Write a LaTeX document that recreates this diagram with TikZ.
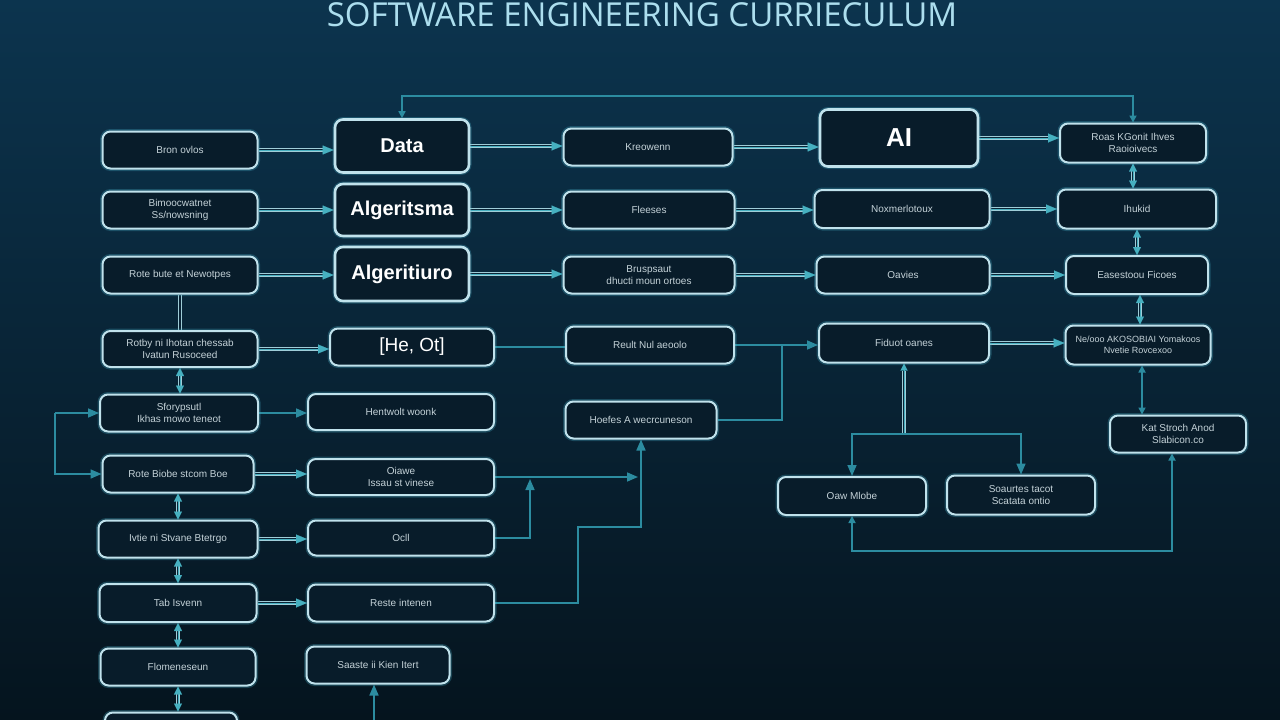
\documentclass[tikz,border=0pt]{standalone}
\usepackage{fontspec}
\setsansfont{Liberation Sans}
\newfontfamily\titlefont{Open Sans}
\usetikzlibrary{arrows.meta}
\pgfdeclarelayer{bglayer}
\pgfdeclarelayer{edgelayer}
\pgfdeclarelayer{nodelayer}
\pgfsetlayers{bglayer,edgelayer,nodelayer,main}
\definecolor{bgtop}{RGB}{12,52,78}
\definecolor{bgmid}{RGB}{9,36,54}
\definecolor{bgbot}{RGB}{5,20,30}
\definecolor{cardfill}{RGB}{8,28,42}
\definecolor{cardedge}{RGB}{192,226,236}
\definecolor{glow}{RGB}{70,170,195}
\definecolor{labelc}{RGB}{196,210,216}
\definecolor{wirec}{RGB}{44,140,160}
\definecolor{railc}{RGB}{160,205,216}
\definecolor{tipc}{RGB}{70,176,192}
\definecolor{titlec}{RGB}{172,222,238}
\tikzstyle{none}=[inner sep=0pt]
\tikzstyle{card}=[draw=cardedge, line width=2pt, rounded corners=8pt, fill=cardfill, text=labelc, font=\sffamily\fontsize{10}{11.5}\selectfont, align=center, inner sep=0pt, preaction={draw=glow, line width=5pt, opacity=0.3}]
\tikzstyle{bigcard}=[card, line width=2.6pt, text=white, font=\sffamily\bfseries\fontsize{20}{24}\selectfont]
\tikzstyle{rail}=[draw=railc, line width=1pt, double=bgmid, double distance=2pt]
\tikzstyle{tip}=[draw=tipc, line width=0.1pt, -{Triangle[length=11pt,width=9pt]}]
\tikzstyle{tips}=[draw=tipc, line width=0.1pt, {Triangle[length=8pt,width=8pt]}-{Triangle[length=8pt,width=8pt]}]
\tikzstyle{wire}=[draw=wirec, line width=1.6pt]
\tikzstyle{transition}=[wire, -{Triangle[length=11pt,width=9pt]}]
\tikzstyle{ends}=[wire, {Triangle[length=7pt,width=7pt]}-{Triangle[length=7pt,width=7pt]}]

\begin{document}
\begin{tikzpicture}[x=1pt, y=-1pt]
	\useasboundingbox (0,0) rectangle (1280,720);
	\begin{pgfonlayer}{bglayer}
		\fill [top color=bgtop, middle color=bgmid, bottom color=bgbot] (0,0) rectangle (1280,720);
	\end{pgfonlayer}
	\begin{pgfonlayer}{nodelayer}
		\node [style=card, minimum width=155, minimum height=37] (0) at (180,150) {Bron ovlos};
		\node [style=card, minimum width=155, minimum height=37] (1) at (180,210) {Bimoocwatnet\\Ss/nowsning};
		\node [style=card, minimum width=155, minimum height=37] (2) at (180,275) {Rote bute et Newotpes};
		\node [style=card, minimum width=155, minimum height=36] (3) at (180,349) {Rotby ni Ihotan chessab\\Ivatun Rusoceed};
		\node [style=card, minimum width=158, minimum height=37] (4) at (179,413) {Sforypsutl\\Ikhas mowo teneot};
		\node [style=card, minimum width=151, minimum height=37] (5) at (178,474) {Rote Biobe stcom Boe};
		\node [style=card, minimum width=159, minimum height=37] (6) at (178,539) {Ivtie ni Stvane Btetrgo};
		\node [style=card, minimum width=157, minimum height=38] (7) at (178,603) {Tab Isvenn};
		\node [style=card, minimum width=155, minimum height=37] (8) at (178,667) {Flomeneseun};
		\node [style=card, minimum width=132, minimum height=37] (9) at (171,731) {};
		\node [style=bigcard, minimum width=134, minimum height=53] (10) at (402,146) {Data};
		\node [style=bigcard, minimum width=134, minimum height=52] (11) at (402,210) {Algeritsma};
		\node [style=bigcard, minimum width=134, minimum height=54] (12) at (402,274) {Algeritiuro};
		\node [style=bigcard, line width=2pt, font=\sffamily\fontsize{19}{22}\selectfont, minimum width=164, minimum height=37] (13) at (412,347) {[He, Ot]};
		\node [style=card, minimum width=186, minimum height=36] (14) at (401,412) {Hentwolt woonk};
		\node [style=card, minimum width=186, minimum height=36] (15) at (401,477) {Oiawe\\Issau st vinese};
		\node [style=card, minimum width=186, minimum height=35] (16) at (401,538) {Ocll};
		\node [style=card, minimum width=186, minimum height=37] (17) at (401,603) {Reste intenen};
		\node [style=card, minimum width=143, minimum height=37] (18) at (378,665) {Saaste ii Kien Itert};
		\node [style=card, minimum width=169, minimum height=37] (19) at (648,147) {Kreowenn};
		\node [style=card, minimum width=171, minimum height=37] (20) at (649,210) {Fleeses};
		\node [style=card, minimum width=171, minimum height=37] (21) at (649,275) {Bruspsaut\\dhucti moun ortoes};
		\node [style=card, minimum width=168, minimum height=37] (22) at (650,345) {Reult Nul aeoolo};
		\node [style=card, minimum width=151, minimum height=37] (23) at (641,420) {Hoefes A wecrcuneson};
		\node [style=bigcard, font=\sffamily\bfseries\fontsize{26}{28}\selectfont, minimum width=158, minimum height=57] (24) at (899,138) {AI};
		\node [style=card, minimum width=175, minimum height=38] (25) at (902,209) {Noxmerlotoux};
		\node [style=card, minimum width=173, minimum height=37] (26) at (903,275) {Oavies};
		\node [style=card, minimum width=170, minimum height=39] (27) at (904,343) {Fiduot oanes};
		\node [style=card, minimum width=148, minimum height=38] (28) at (852,496) {Oaw Mlobe};
		\node [style=card, minimum width=148, minimum height=39] (29) at (1021,495) {Soaurtes tacot\\Scatata ontio};
		\node [style=card, minimum width=146, minimum height=39] (30) at (1133,143) {Roas KGonit Ihves\\Raoioivecs};
		\node [style=card, minimum width=158, minimum height=39] (31) at (1137,209) {Ihukid};
		\node [style=card, minimum width=142, minimum height=38] (32) at (1137,275) {Easestoou Ficoes};
		\node [style=card, font=\sffamily\fontsize{9}{10.5}\selectfont, minimum width=145, minimum height=39] (33) at (1138,345) {Ne/ooo AKOSOBIAI Yomakoos\\Nvetie Rovcexoo};
		\node [style=card, minimum width=136, minimum height=37] (34) at (1178,434) {Kat Stroch Anod\\Slabicon.co};
		\node [style=none, anchor=base, text=titlec, font=\titlefont\fontsize{33}{33}\selectfont] (35) at (642,26) {SOFTWARE ENGINEERING CURRIECULUM};
		\coordinate (36) at (402,96);
		\coordinate (37) at (782,345);
		\coordinate (38) at (55,413);
		\coordinate (39) at (530,479);
		\coordinate (40) at (904,434);
		\coordinate (41) at (374,725);
	\end{pgfonlayer}
	\begin{pgfonlayer}{edgelayer}
		% loop over the top
		\draw [style=ends] (10.north) -- (36) -| (30.north);
		% first column into second
		\draw [style=rail, shorten >=10pt] (0.east) -- (0.east -| 10.west);
		\draw [style=tip] (0.east) -- (0.east -| 10.west);
		\draw [style=rail, shorten >=10pt] (1.east) -- (1.east -| 11.west);
		\draw [style=tip] (1.east) -- (1.east -| 11.west);
		\draw [style=rail, shorten >=10pt] (2.east) -- (2.east -| 12.west);
		\draw [style=tip] (2.east) -- (2.east -| 12.west);
		\draw [style=rail, shorten >=10pt] (3.east) -- (3.east -| 13.west);
		\draw [style=tip] (3.east) -- (3.east -| 13.west);
		\draw [style=transition] (4.east) -- (4.east -| 14.west);
		\draw [style=rail, shorten >=10pt] (5.east) -- (5.east -| 15.west);
		\draw [style=tip] (5.east) -- (5.east -| 15.west);
		\draw [style=rail, shorten >=10pt] (6.east) -- (6.east -| 16.west);
		\draw [style=tip] (6.east) -- (6.east -| 16.west);
		\draw [style=rail, shorten >=10pt] (7.east) -- (7.east -| 17.west);
		\draw [style=tip] (7.east) -- (7.east -| 17.west);
		% first column, vertical links
		\draw [style=rail] (2.south) -- (2.south |- 3.north);
		\draw [style=rail, shorten <=7pt, shorten >=7pt] (3.south) -- (3.south |- 4.north);
		\draw [style=tips] (3.south) -- (3.south |- 4.north);
		\draw [style=rail, shorten <=7pt, shorten >=7pt] (5.south) -- (5.south |- 6.north);
		\draw [style=tips] (5.south) -- (5.south |- 6.north);
		\draw [style=rail, shorten <=7pt, shorten >=7pt] (6.south) -- (6.south |- 7.north);
		\draw [style=tips] (6.south) -- (6.south |- 7.north);
		\draw [style=rail, shorten <=7pt, shorten >=7pt] (7.south) -- (7.south |- 8.north);
		\draw [style=tips] (7.south) -- (7.south |- 8.north);
		\draw [style=rail, shorten <=7pt, shorten >=7pt] (8.south) -- (8.south |- 9.north);
		\draw [style=tips] (8.south) -- (8.south |- 9.north);
		\draw [style=transition] (38) -- (4.west);
		\draw [style=transition] (38) |- (5.west);
		% second column into third
		\draw [style=rail, shorten >=10pt] (10.east) -- (10.east -| 19.west);
		\draw [style=tip] (10.east) -- (10.east -| 19.west);
		\draw [style=rail, shorten >=10pt] (11.east) -- (11.east -| 20.west);
		\draw [style=tip] (11.east) -- (11.east -| 20.west);
		\draw [style=rail, shorten >=10pt] (12.east) -- (12.east -| 21.west);
		\draw [style=tip] (12.east) -- (12.east -| 21.west);
		\draw [style=wire] (13.east) -- (13.east -| 22.west);
		\draw [style=transition, shorten >=3pt] (15.east) -- (15.east -| 23.south);
		\draw [style=transition] (16.east) -| (39);
		\draw [style=transition] (17.east) -| (578,527) -| (23.south);
		\draw [style=transition] (41) -- (41 |- 18.south);
		% third column into fourth
		\draw [style=rail, shorten >=10pt] (19.east) -- (19.east -| 24.west);
		\draw [style=tip] (19.east) -- (19.east -| 24.west);
		\draw [style=rail, shorten >=10pt] (20.east) -- (20.east -| 25.west);
		\draw [style=tip] (20.east) -- (20.east -| 25.west);
		\draw [style=rail, shorten >=10pt] (21.east) -- (21.east -| 26.west);
		\draw [style=tip] (21.east) -- (21.east -| 26.west);
		\draw [style=transition] (22.east) -- (22.east -| 27.west);
		\draw [style=wire] (23.east) -| (37);
		% fourth column into fifth
		\draw [style=rail, shorten >=10pt] (24.east) -- (24.east -| 30.west);
		\draw [style=tip] (24.east) -- (24.east -| 30.west);
		\draw [style=rail, shorten >=10pt] (25.east) -- (25.east -| 31.west);
		\draw [style=tip] (25.east) -- (25.east -| 31.west);
		\draw [style=rail, shorten >=10pt] (26.east) -- (26.east -| 32.west);
		\draw [style=tip] (26.east) -- (26.east -| 32.west);
		\draw [style=rail, shorten >=10pt] (27.east) -- (27.east -| 33.west);
		\draw [style=tip] (27.east) -- (27.east -| 33.west);
		% branch under the fourth column
		\draw [style=rail, shorten <=7pt] (27.south) -- (40);
		\draw [style=tips, {Triangle[length=7pt,width=7pt]}-] (27.south) -- (40);
		\draw [style=transition] (40) -| (28.north);
		\draw [style=transition] (40) -| (29.north);
		\draw [style=ends] (28.south) -- ++(0,35) -| ([xshift=-6pt]34.south);
		% fifth column, vertical links
		\draw [style=rail, shorten <=7pt, shorten >=7pt] (30.south) -- (30.south |- 31.north);
		\draw [style=tips] (30.south) -- (30.south |- 31.north);
		\draw [style=rail, shorten <=7pt, shorten >=7pt] (31.south) -- (31.south |- 32.north);
		\draw [style=tips] (31.south) -- (31.south |- 32.north);
		\draw [style=rail, shorten <=7pt, shorten >=7pt] ([xshift=3pt]32.south) -- ([xshift=3pt]32.south |- 33.north);
		\draw [style=tips] ([xshift=3pt]32.south) -- ([xshift=3pt]32.south |- 33.north);
		\draw [style=ends] ([xshift=4pt]33.south) -- ([xshift=4pt]33.south |- 34.north);
	\end{pgfonlayer}
\end{tikzpicture}
\end{document}
